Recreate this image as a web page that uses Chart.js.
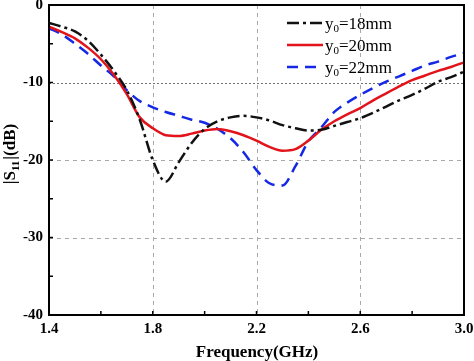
<!DOCTYPE html>
<html>
<head>
<meta charset="utf-8">
<script src="https://cdn.jsdelivr.net/npm/chart.js@4.4.0/dist/chart.umd.min.js"></script>
<style>
  html, body { margin: 0; padding: 0; background: #fff; }
  #wrap { width: 474px; height: 361px; position: relative; }
</style>
</head>
<body>
<div id="wrap"><canvas id="chart"></canvas></div>
<script>
// Frequency points (GHz)
const freq = [1.40, 1.45, 1.50, 1.55, 1.60, 1.65, 1.70, 1.75, 1.80, 1.85, 1.90,
              1.95, 2.00, 2.05, 2.10, 2.15, 2.20, 2.25, 2.30, 2.35, 2.40, 2.45,
              2.50, 2.55, 2.60, 2.65, 2.70, 2.75, 2.80, 2.85, 2.90, 2.95, 3.00];

// |S11| (dB) for each y0
const s11_18 = [-2.3, -2.8, -3.4, -4.6, -6.4, -8.5, -11.0, -14.8, -20.0, -22.8, -20.3,
                -17.8, -16.0, -15.0, -14.5, -14.3, -14.5, -14.9, -15.5, -15.9, -16.2, -16.1,
                -15.6, -15.1, -14.6, -13.9, -13.1, -12.3, -11.6, -10.8, -9.9, -9.3, -8.6];
const s11_20 = [-2.8, -3.5, -4.3, -5.5, -7.0, -9.0, -11.5, -14.5, -15.9, -16.8, -16.9,
                -16.6, -16.2, -16.0, -16.3, -16.8, -17.5, -18.3, -18.8, -18.6, -17.5, -16.1,
                -15.0, -14.1, -13.3, -12.3, -11.4, -10.5, -9.7, -9.1, -8.5, -8.0, -7.4];
const s11_22 = [-3.0, -3.8, -5.0, -6.3, -7.8, -9.2, -11.0, -12.4, -13.2, -13.8, -14.3,
                -14.8, -15.2, -16.0, -17.2, -19.0, -21.3, -23.0, -23.3, -20.8, -17.6, -15.8,
                -13.8, -12.6, -11.6, -10.7, -9.9, -9.2, -8.5, -7.8, -7.3, -6.7, -6.2];

const seriesLabels = ['18mm', '20mm', '22mm'];

// Axis ticks
const xTicks = [1.4, 1.8, 2.2, 2.6, 3.0];
const xMinorTicks = [1.6, 2.0, 2.4, 2.8];
const yTicks = [-40, -30, -20, -10, 0];
const yMinorTicks = [-35, -25, -15, -5];

const SERIF = '"Liberation Serif", "Times New Roman", serif';
const colors = ['#111111', '#e3131b', '#1428e6'];
const dashes = [[12, 4, 3, 4], [], [11, 7]];

function toPoints(ys) {
    return freq.map((f, i) => ({ x: f, y: ys[i] }));
}

// grid lines, frame, ticks, legend and titles
const decorPlugin = {
    id: 'decor',
    beforeDatasetsDraw(chart) {
        const { ctx, chartArea: a, scales: { x, y } } = chart;
        ctx.save();
        ctx.lineWidth = 1;
        // vertical dashed grid
        ctx.strokeStyle = '#a8a8a8';
        ctx.setLineDash([4, 4]);
        [1.8, 2.2, 2.6].forEach(v => {
            const px = Math.round(x.getPixelForValue(v)) + 0.5;
            ctx.beginPath(); ctx.moveTo(px, a.top); ctx.lineTo(px, a.bottom); ctx.stroke();
        });
        [-20, -30].forEach(v => {
            const py = Math.round(y.getPixelForValue(v)) + 0.5;
            ctx.beginPath(); ctx.moveTo(a.left, py); ctx.lineTo(a.right, py); ctx.stroke();
        });
        // -10 dB reference line, dotted
        ctx.strokeStyle = '#707070';
        ctx.setLineDash([2, 2]);
        const p10 = Math.round(y.getPixelForValue(-10)) + 0.5;
        ctx.beginPath(); ctx.moveTo(a.left, p10); ctx.lineTo(a.right, p10); ctx.stroke();
        ctx.restore();
    },
    afterDraw(chart) {
        const { ctx, chartArea: a, scales: { x, y } } = chart;
        ctx.save();
        // frame
        ctx.strokeStyle = '#000';
        ctx.lineWidth = 2;
        ctx.strokeRect(a.left, a.top, a.right - a.left, a.bottom - a.top);
        // inward ticks
        ctx.lineWidth = 1.5;
        xTicks.concat(xMinorTicks).forEach(v => {
            const px = x.getPixelForValue(v);
            ctx.beginPath(); ctx.moveTo(px, a.bottom); ctx.lineTo(px, a.bottom - 4); ctx.stroke();
        });
        yTicks.concat(yMinorTicks).forEach(v => {
            const py = y.getPixelForValue(v);
            ctx.beginPath(); ctx.moveTo(a.left, py); ctx.lineTo(a.left + 4, py); ctx.stroke();
        });

        // legend
        ctx.textBaseline = 'alphabetic';
        ctx.textAlign = 'left';
        seriesLabels.forEach((lab, i) => {
            const ly = 23 + i * 22;
            ctx.strokeStyle = colors[i];
            ctx.lineWidth = 2.5;
            ctx.setLineDash(dashes[i]);
            ctx.beginPath(); ctx.moveTo(287, ly); ctx.lineTo(323, ly); ctx.stroke();
            ctx.setLineDash([]);
            ctx.fillStyle = '#000';
            let tx = 325;
            const base = ly + 6;
            ctx.font = '17px ' + SERIF;
            ctx.fillText('y', tx, base);
            tx += ctx.measureText('y').width;
            ctx.font = '11px ' + SERIF;
            ctx.fillText('0', tx, base + 3);
            tx += ctx.measureText('0').width;
            ctx.font = '17px ' + SERIF;
            ctx.fillText('=' + lab, tx, base);
        });

        // x title
        ctx.fillStyle = '#000';
        ctx.font = 'bold 17px ' + SERIF;
        ctx.textAlign = 'center';
        ctx.fillText('Frequency(GHz)', 257, 357);

        // y title with subscript
        ctx.translate(15, 154);
        ctx.rotate(-Math.PI / 2);
        ctx.textAlign = 'left';
        const big = 'bold 17px ' + SERIF, small = 'bold 11px ' + SERIF;
        ctx.font = big; const w1 = ctx.measureText('|S').width, w3 = ctx.measureText('|(dB)').width;
        ctx.font = small; const w2 = ctx.measureText('11').width + 1;
        let tx = -(w1 + w2 + w3) / 2;
        ctx.font = big; ctx.fillText('|S', tx, 0); tx += w1;
        ctx.font = small; ctx.fillText('11', tx, 4); tx += w2;
        ctx.font = big; ctx.fillText('|(dB)', tx, 0);
        ctx.restore();
    }
};

function initChart() {
    const ctx = document.getElementById('chart').getContext('2d');
    new Chart(ctx, {
        type: 'line',
        data: {
            datasets: [s11_18, s11_20, s11_22].map((ys, i) => ({
                label: 'y0=' + seriesLabels[i],
                data: toPoints(ys),
                borderColor: colors[i],
                borderDash: dashes[i],
                borderWidth: 2.5,
                pointRadius: 0,
                cubicInterpolationMode: 'monotone',
                fill: false
            }))
        },
        options: {
            responsive: true,
            maintainAspectRatio: false,
            animation: false,
            layout: { padding: { top: 5, right: 10, left: 0, bottom: 0 } },
            plugins: {
                legend: { display: false },
                tooltip: { enabled: false }
            },
            scales: {
                x: {
                    type: 'linear',
                    min: 1.4,
                    max: 3.0,
                    grid: { display: false, drawTicks: false },
                    border: { display: false },
                    afterBuildTicks: s => { s.ticks = xTicks.map(v => ({ value: v })); },
                    afterFit: s => { s.height = 46; s.paddingLeft = 0; s.paddingRight = 0; },
                    ticks: {
                        padding: 5,
                        color: '#000',
                        font: { family: SERIF, size: 15, weight: 'bold' },
                        callback: v => v.toFixed(1)
                    }
                },
                y: {
                    min: -40,
                    max: 0,
                    grid: { display: false, drawTicks: false },
                    border: { display: false },
                    afterBuildTicks: s => { s.ticks = yTicks.map(v => ({ value: v })); },
                    afterFit: s => { s.width = 49; s.paddingTop = 0; s.paddingBottom = 0; },
                    ticks: {
                        padding: 6,
                        color: '#000',
                        font: { family: SERIF, size: 15, weight: 'bold' },
                        callback: v => String(v)
                    }
                }
            }
        },
        plugins: [decorPlugin]
    });
}

document.addEventListener('DOMContentLoaded', initChart);
</script>
</body>
</html>
